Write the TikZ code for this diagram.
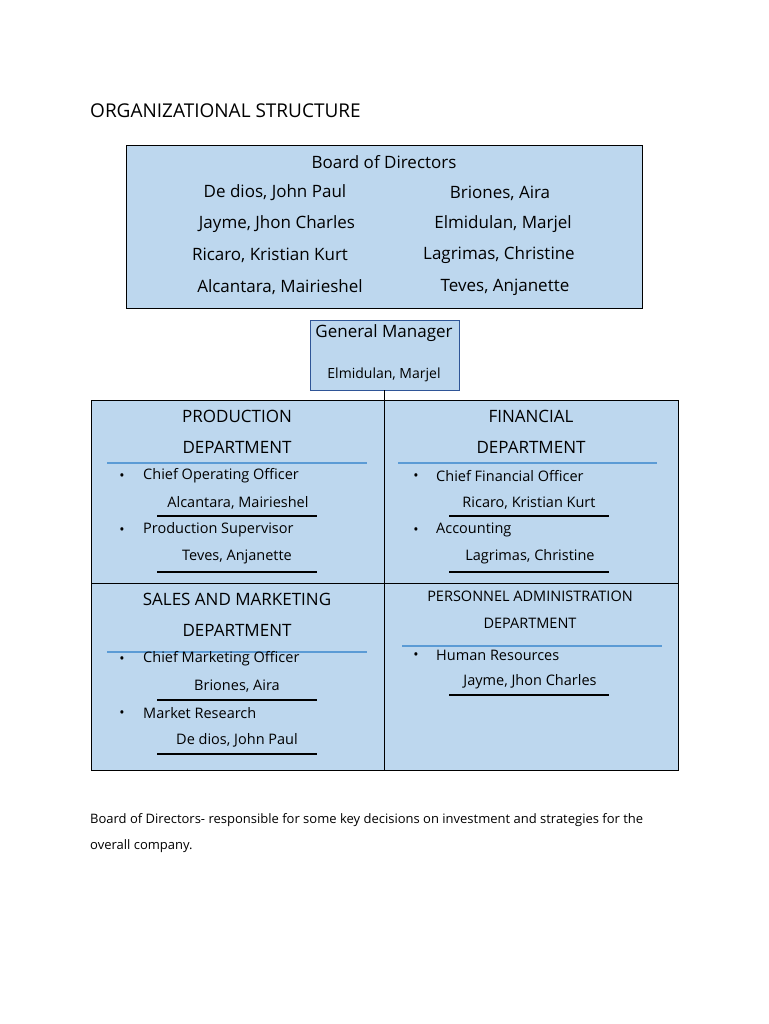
\documentclass[tikz,border=0pt]{standalone}
\usepackage{fontspec}
\setmainfont{Open Sans}
\definecolor{boxfill}{HTML}{BDD7EE}
\definecolor{bline}{HTML}{5B9BD5}
\definecolor{gmborder}{HTML}{2F5597}
\begin{document}
\begin{tikzpicture}[x=1pt,y=-1pt,
  big/.style={font=\fontsize{17}{20}\selectfont,inner sep=0pt,anchor=center},
  mid/.style={font=\fontsize{14.5}{17}\selectfont,inner sep=0pt,anchor=center},
  lft/.style={font=\fontsize{14.5}{17}\selectfont,inner sep=0pt,anchor=west},
  bul/.style={font=\fontsize{14}{17}\selectfont,inner sep=0pt,anchor=center},
  uline/.style={draw=black,line width=1.5pt},
  bluel/.style={draw=bline,line width=1.3pt}]
\useasboundingbox (0,0) rectangle (768,1024);
\fill[white] (0,0) rectangle (768,1024);
\node[font=\fontsize{19}{22}\selectfont,anchor=west,inner sep=0pt] (title) at (90,111) {ORGANIZATIONAL STRUCTURE};
% board
\node[draw=black,fill=boxfill,minimum width=516pt,minimum height=163pt,inner sep=0pt] (board) at (384,226.5) {};
\node[big] (bt) at (384,162) {Board of Directors};
\node[big] (b1) at (275,193) {De dios, John Paul};
\node[big] (b2) at (277,224) {Jayme, Jhon Charles};
\node[big] (b3) at (270,255) {Ricaro, Kristian Kurt};
\node[big] (b4) at (280,287) {Alcantara, Mairieshel};
\node[big] (b5) at (500,193) {Briones, Aira};
\node[big] (b6) at (503,224) {Elmidulan, Marjel};
\node[big] (b7) at (499,255) {Lagrimas, Christine};
\node[big] (b8) at (505,287) {Teves, Anjanette};
% GM
\node[draw=gmborder,fill=boxfill,minimum width=149pt,minimum height=70pt,inner sep=0pt,line width=0.8pt] (gm) at (384.5,355) {};
\node[big] (gmt) at (384,333) {General Manager};
\node[bul] (gmn) at (384,375) {Elmidulan, Marjel};
% grid
\node[draw=black,fill=boxfill,minimum width=587pt,minimum height=370pt,inner sep=0pt] (grid) at (384.5,585) {};
\draw[line width=1.2pt] (gm.south) -- (grid.north);
\draw (384,400) -- (384,770);
\draw (91,583) -- (678,583);
% production
\node[big] (p1) at (237,416) {PRODUCTION};
\node[big] (p2) at (237,447) {DEPARTMENT};
\draw[bluel] (107,463) -- (367,463);
\node[bul] (pb1) at (122,477) {•};
\node[lft] (pt1) at (143,476) {Chief Operating Officer};
\node[mid] (pn1) at (238,503) {Alcantara, Mairieshel};
\draw[uline] (157,516) -- (317,516);
\node[bul] (pb2) at (122,531) {•};
\node[lft] (pt2) at (143,530) {Production Supervisor};
\node[mid] (pn2) at (237,557) {Teves, Anjanette};
\draw[uline] (157,572) -- (317,572);
% financial
\node[big] (f1) at (531,416) {FINANCIAL};
\node[big] (f2) at (531,447) {DEPARTMENT};
\draw[bluel] (398,463) -- (657,463);
\node[bul] (fb1) at (416,477) {•};
\node[lft] (ft1) at (436,476) {Chief Financial Officer};
\node[mid] (fn1) at (529,503) {Ricaro, Kristian Kurt};
\draw[uline] (449,516) -- (609,516);
\node[bul] (fb2) at (416,531) {•};
\node[lft] (ft2) at (436,530) {Accounting};
\node[mid] (fn2) at (530,557) {Lagrimas, Christine};
\draw[uline] (449,572) -- (609,572);
% sales
\node[big] (s1) at (237,599) {SALES AND MARKETING};
\node[big] (s2) at (237,630) {DEPARTMENT};
\draw[bluel] (107,652) -- (367,652);
\node[bul] (sb1) at (122,660) {•};
\node[lft] (st1) at (143,659) {Chief Marketing Officer};
\node[mid] (sn1) at (237,686) {Briones, Aira};
\draw[uline] (157,700) -- (317,700);
\node[bul] (sb2) at (122,714) {•};
\node[lft] (st2) at (143,713) {Market Research};
\node[mid] (sn2) at (237,740) {De dios, John Paul};
\draw[uline] (157,754) -- (317,754);
% personnel
\node[mid] (a1) at (530,596) {PERSONNEL ADMINISTRATION};
\node[mid] (a2) at (530,623) {DEPARTMENT};
\draw[bluel] (402,646) -- (662,646);
\node[bul] (ab1) at (416,656) {•};
\node[lft] (at1) at (436,655) {Human Resources};
\node[mid] (an1) at (530,682) {Jayme, Jhon Charles};
\draw[uline] (449,695) -- (609,695);
% footer
\node[font=\fontsize{13}{16}\selectfont,anchor=west,inner sep=0pt] (f1t) at (90,820) {Board of Directors- responsible for some key decisions on investment and strategies for the};
\node[font=\fontsize{13}{16}\selectfont,anchor=west,inner sep=0pt] (f2t) at (90,846) {overall company.};
\end{tikzpicture}
\end{document}
